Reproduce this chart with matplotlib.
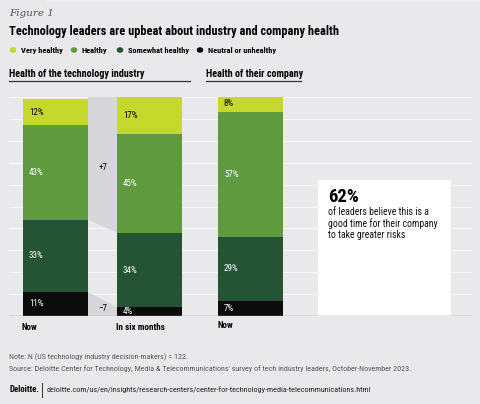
import matplotlib.pyplot as plt
from matplotlib.patches import Rectangle, Polygon
import numpy as np

# data
categories = ['Now', 'In six months', 'Now']
series = ['Very healthy', 'Healthy', 'Somewhat healthy', 'Neutral or unhealthy']
neutral = [11, 4, 7]
somewhat = [33, 34, 29]
healthy = [43, 45, 57]
very = [12, 17, 8]
stat_value = 62
diff_labels = ['+7', '\u22127']

colors = ['#c5d92d', '#5f9a3f', '#245434', '#0b0b0b']
bg = '#e9e9eb'
shade = '#d7d7d9'

plt.rcParams['font.family'] = ['Roboto Condensed', 'DejaVu Sans']

W, H = 480, 404
fig = plt.figure(figsize=(W / 100, H / 100), dpi=100, facecolor=bg)

def fx(px):
    return px / W

def fy(py):
    return 1 - py / H

# chart axes: x in pixels, y in percent
ax = fig.add_axes([fx(9), fy(316), fx(472) - fx(9), fy(97) - fy(316)])
ax.set_facecolor(bg)
ax.set_xlim(9, 472)
ax.set_ylim(0, 100)
ax.axis('off')

for g in np.arange(10, 101, 10):
    ax.axhline(g, color='#f5f5f6', lw=0.9, zorder=0)
ax.axhline(0, color='#9c9c9e', lw=1.0, zorder=5)

lefts = [23, 117, 218]
width = 65

stack = [neutral, somewhat, healthy, very]
stack_colors = colors[::-1]
bottoms = [0, 0, 0]
for vals, col in zip(stack, stack_colors):
    ax.bar(lefts, vals, width=width, bottom=bottoms, align='edge', color=col, zorder=3)
    for i, v in enumerate(vals):
        tc = 'black' if col == colors[0] else 'white'
        ax.text(lefts[i] + 6, bottoms[i] + v / 2, f'{v}%', color=tc, fontsize=6.5,
                va='center', ha='left', zorder=6)
    bottoms = [b + v for b, v in zip(bottoms, vals)]

# connectors between the two industry bars
x0 = lefts[0] + width
x1 = lefts[1]
top_left = neutral[0] + somewhat[0]
top_right = neutral[1] + somewhat[1]
ax.add_patch(Polygon([[x0, 100], [x1, 100], [x1, top_right], [x0, top_left]],
                     closed=True, facecolor=shade, edgecolor='none', zorder=2))
ax.add_patch(Polygon([[x0, 0], [x1, 0], [x1, neutral[1]], [x0, neutral[0]]],
                     closed=True, facecolor=shade, edgecolor='none', zorder=2))
ax.text((x0 + x1) / 2 + 1, 68, diff_labels[0], fontsize=6.5, ha='center', va='center', zorder=6)
ax.text((x0 + x1) / 2, 3.3, diff_labels[1], fontsize=6.5, ha='center', va='center', zorder=6)

# callout box
ax.add_patch(Rectangle((318, 0), 133, stat_value, facecolor='white', edgecolor='none', zorder=2))
fig.text(fx(328), fy(197), f'{stat_value}%', fontsize=13.5, fontweight='bold', va='center', ha='left')
fig.text(fx(328), fy(207), 'of leaders believe this is a\ngood time for their company\nto take greater risks',
         fontsize=7, va='top', ha='left', linespacing=1.12, color='#111111')

# category labels
cat_y = [328, 328, 326]
for i, c in enumerate(categories):
    fig.text(fx(lefts[i] - 1), fy(cat_y[i]), c, fontsize=6.5, fontweight='bold', va='center', ha='left')

# header texts
fig.add_artist(plt.Line2D([fx(48), 1], [fy(0.8), fy(0.8)], color='#f3f3f4', lw=1.2))
fig.text(fx(9), fy(13), 'Figure 1', fontsize=7.5, style='italic', family='DejaVu Serif',
         color='#555555', va='center')
fig.text(fx(9), fy(32), 'Technology leaders are upbeat about industry and company health',
         fontsize=8.9, fontweight='bold', va='center')

leg_x = [13, 74, 120, 200]
for x, lab, col in zip(leg_x, series, colors):
    fig.patches.append(plt.Circle((fx(x), fy(50)), 3.3 / W, transform=fig.transFigure,
                                  facecolor=col, edgecolor='none'))
    fig.text(fx(x + 8), fy(50), lab, fontsize=6, fontweight='bold', va='center')

fig.text(fx(9), fy(74), 'Health of the technology industry', fontsize=7.3, fontweight='bold', va='center')
fig.text(fx(206), fy(74), 'Health of their company', fontsize=7.3, fontweight='bold', va='center')
fig.add_artist(plt.Line2D([fx(9), fx(190)], [fy(81), fy(81)], color='#333333', lw=0.9))
fig.add_artist(plt.Line2D([fx(206), fx(301)], [fy(81), fy(81)], color='#333333', lw=0.9))

# footer
fig.text(fx(9), fy(357), 'Note: N (US technology industry decision-makers) = 122.', fontsize=5.8,
         color='#555555', va='center')
fig.text(fx(9), fy(368.5), "Source: Deloitte Center for Technology, Media & Telecommunications' survey of tech industry leaders, October-November 2023.",
         fontsize=5.75, color='#555555', va='center')
fig.text(fx(9), fy(390), 'Deloitte.', fontsize=6.3, fontweight='bold', va='center')
fig.add_artist(plt.Line2D([fx(42), fx(42)], [fy(383), fy(397)], color='#333333', lw=0.7))
fig.text(fx(47), fy(390), 'deloitte.com/us/en/insights/research-centers/center-for-technology-media-telecommunications.html',
         fontsize=5.9, color='#222222', va='center')

fig.savefig('out.png', dpi=100, facecolor=bg)
